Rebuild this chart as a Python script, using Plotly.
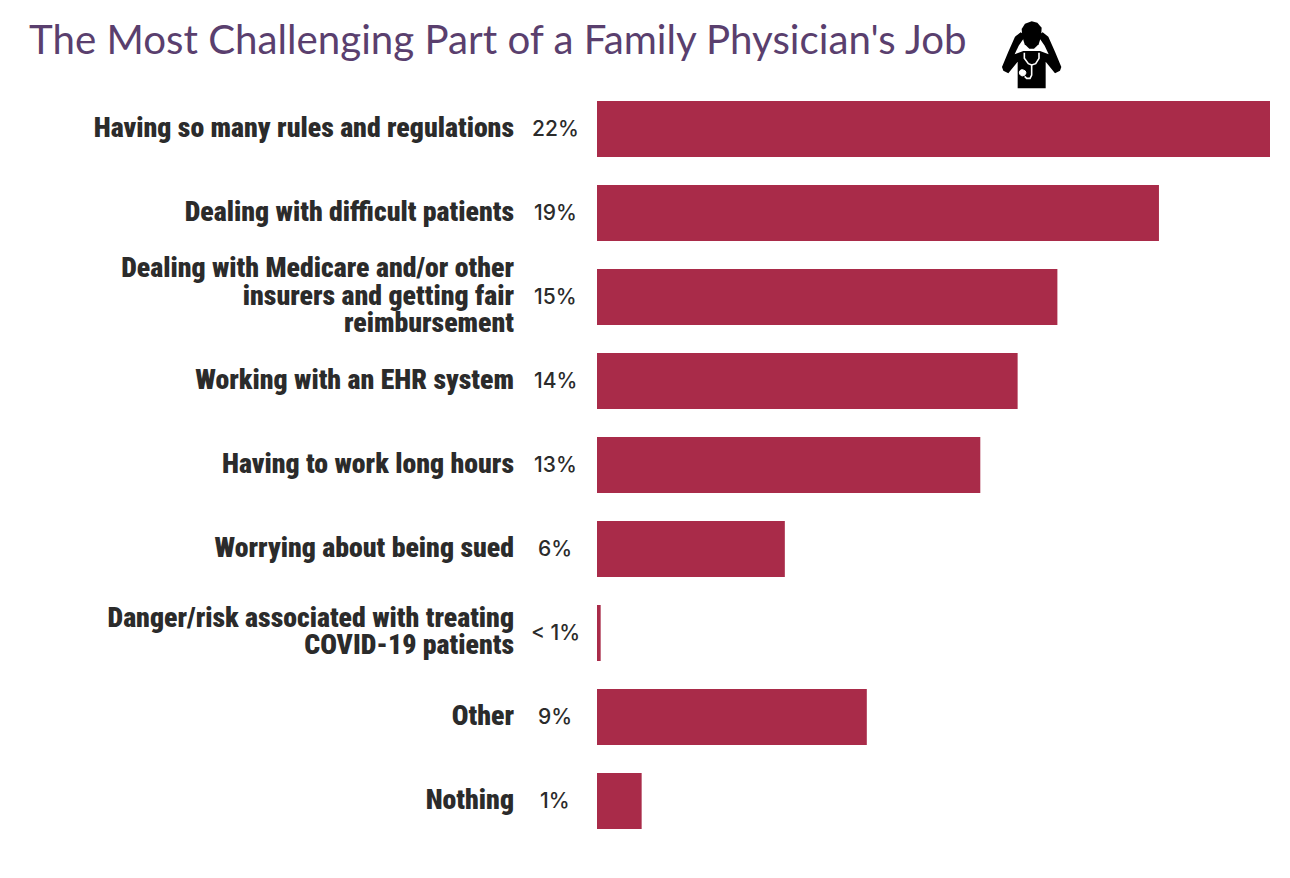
import plotly.graph_objects as go

categories = [
    "Having so many rules and regulations",
    "Dealing with difficult patients",
    "Dealing with Medicare and/or other<br>insurers and getting fair<br>reimbursement",
    "Working with an EHR system",
    "Having to work long hours",
    "Worrying about being sued",
    "Danger/risk associated with treating<br>COVID-19 patients",
    "Other",
    "Nothing",
]
values = [22.0, 18.37, 15.05, 13.75, 12.53, 6.14, 0.12, 8.82, 1.46]
value_labels = ["22%", "19%", "15%", "14%", "13%", "6%", "< 1%", "9%", "1%"]
title_text = "The Most Challenging Part of a Family Physician's Job"

# the page body has an 8 px margin, so everything is placed relative to that
PAGE = 8
W, H = 1290 - PAGE, 878 - PAGE
L, R, T, B = 597, 1270, 87, 843
BAR = "#a92b49"
INK = "#2b2b2b"


def pt(zx, zy):
    """Icon outline point, given in pixels of a 3x crop of the icon."""
    px = 980 + zx / 3
    py = 5 + zy / 3
    return (px - L) / (R - L), (B - py) / (B - T)


def path(points, close=True):
    s = ""
    for i, (zx, zy) in enumerate(points):
        x, y = pt(zx, zy)
        s += f"{'M' if i == 0 else 'L'}{x:.5f},{y:.5f} "
    return s + ("Z" if close else "")


head = [(125, 72), (135, 56), (155, 49), (172, 53), (185, 68), (183, 95), (176, 118),
        (162, 131), (148, 131), (134, 118), (127, 95)]
body = [(122, 82), (131, 88), (130, 102), (116, 122), (104, 148), (130, 138), (180, 138),
        (206, 148), (194, 122), (180, 102), (179, 88), (188, 82), (205, 95), (225, 140),
        (244, 186), (240, 197), (225, 205), (197, 170), (197, 250), (113, 250), (113, 170),
        (85, 205), (70, 197), (66, 186), (85, 140), (105, 95)]
steth = [(133, 143), (133, 160), (145, 176), (155, 180), (167, 176), (177, 160), (177, 143)]
tube = [(155, 180), (155, 210), (150, 220), (140, 220), (134, 214)]
ring = [(128, 194), (136, 198), (138, 204), (134, 211), (126, 213), (119, 208), (118, 201), (122, 195)]

shapes = [
    dict(type="path", xref="paper", yref="paper", path=path(body), fillcolor="black", line_width=0),
    dict(type="path", xref="paper", yref="paper", path=path(head), fillcolor="black", line_width=0),
    dict(type="path", xref="paper", yref="paper", path=path(steth, False), line=dict(color="white", width=1.6)),
    dict(type="path", xref="paper", yref="paper", path=path(tube, False), line=dict(color="white", width=1.6)),
    dict(type="path", xref="paper", yref="paper", path=path(ring), fillcolor="white", line=dict(color="white", width=1)),
]

fig = go.Figure(go.Bar(x=values, y=categories, orientation="h", marker=dict(color=BAR, line_width=0), hoverinfo="skip"))

annotations = [
    dict(x=-42 / (R - L), y=c, xref="paper", yref="y", text=t, showarrow=False, xanchor="center",
         yanchor="middle", yshift=1, font=dict(family="Inter, sans-serif", size=21, color=INK, weight=500))
    for c, t in zip(categories, value_labels)
]
annotations.append(dict(x=(29 - L) / (R - L), y=(B - 40) / (B - T), xref="paper", yref="paper", text=title_text,
                        showarrow=False, xanchor="left", yanchor="middle", xshift=-2, yshift=2,
                        font=dict(family="Lato, sans-serif", size=40.25, color="#5a3f6e")))

tick_text = [
    "<br>".join(f'<span style="font-size:27.8px;font-stretch:condensed">{line}</span>' for line in c.split("<br>"))
    for c in categories
]

fig.update_layout(
    width=W, height=H, autosize=False,
    margin=dict(l=L - PAGE, r=W + PAGE - R, t=T - PAGE, b=H + PAGE - B, pad=0),
    paper_bgcolor="white", plot_bgcolor="white",
    bargap=1 / 3, showlegend=False,
    xaxis=dict(range=[0, 22], visible=False, fixedrange=True),
    yaxis=dict(categoryorder="array", categoryarray=categories, autorange="reversed", showgrid=False,
               zeroline=False, showline=False, ticks="", ticklabelstandoff=82,
               tickmode="array", tickvals=categories, ticktext=tick_text,
               tickfont=dict(family="Roboto Condensed, Roboto, sans-serif", size=21.5, color=INK, weight=900)),
    annotations=annotations, shapes=shapes,
)
fig.write_html("out.html", config={"displayModeBar": False})
